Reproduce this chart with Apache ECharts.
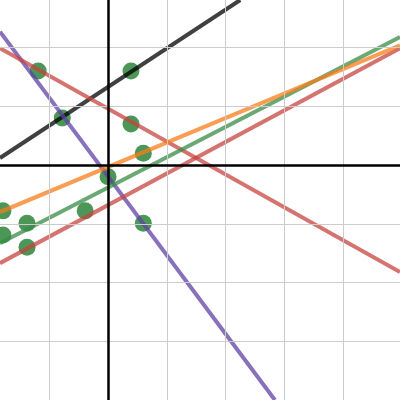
<!DOCTYPE html>
<html>
<head>
<meta charset="utf-8">
<script src="https://cdn.jsdelivr.net/npm/echarts@6/dist/echarts.min.js"></script>
<style>html,body{margin:0;padding:0;background:#fff}#chart{width:400px;height:400px}</style>
</head>
<body>
<div id="chart"></div>
<script>
var xMin = -1.84, xMax = 4.97, yMin = -4.0, yMax = 2.81;
var gridX = [-1, 1, 2, 3, 4];
var gridY = [-3, -2, -1, 1, 2];
var points = [[-1.19,1.6],[0.39,1.6],[-0.78,0.8],[0.39,0.7],[0.6,0.2],[0,-0.2],
  [-1.79,-0.78],[-0.39,-0.78],[-1.38,-0.99],[-1.79,-1.19],[-1.38,-1.4],[0.6,-0.99]];
var blackLine = [[-1.84,0.12],[2.25,2.81]];
var purpleLine = [[-1.84,2.27],[2.84,-4.0]];
var redDown = [[-1.84,1.99],[4.97,-1.82]];
var redUp = [[-1.84,-1.67],[4.97,1.99]];
var greenLine = [[-1.84,-1.33],[4.97,2.18]];
var orangeLine = [[-1.84,-0.8],[4.97,2.04]];

function line(data, color) {
  return {type:'line', data:data, symbol:'none', silent:true,
    lineStyle:{color:color, width:4, opacity:0.75}};
}
var myChart = echarts.init(document.getElementById('chart'));
myChart.setOption({
  animation:false,
  grid:{left:0,right:0,top:0,bottom:0},
  xAxis:{type:'value',min:xMin,max:xMax,show:false},
  yAxis:{type:'value',min:yMin,max:yMax,show:false},
  series:[
    {type:'line',data:[],silent:true,
      markLine:{symbol:'none',label:{show:false},silent:true,
        lineStyle:{color:'#ccc',width:1,type:'solid'},
        data:gridX.map(function(v){return {xAxis:v};}).concat(gridY.map(function(v){return {yAxis:v};}))}},
    {type:'line',data:[],silent:true,
      markLine:{symbol:'none',label:{show:false},silent:true,
        lineStyle:{color:'#000',width:2.5,type:'solid'},
        data:[{xAxis:0},{yAxis:0}]}},
    {type:'scatter',data:points,symbolSize:17,itemStyle:{color:'#388c46',opacity:0.9}},
    line(blackLine,'#000000'),
    line(purpleLine,'#6042a6'),
    line(redDown,'#c74440'),
    line(redUp,'#c74440'),
    line(greenLine,'#388c46'),
    line(orangeLine,'#fa7e19')
  ]
});
</script>
</body>
</html>
